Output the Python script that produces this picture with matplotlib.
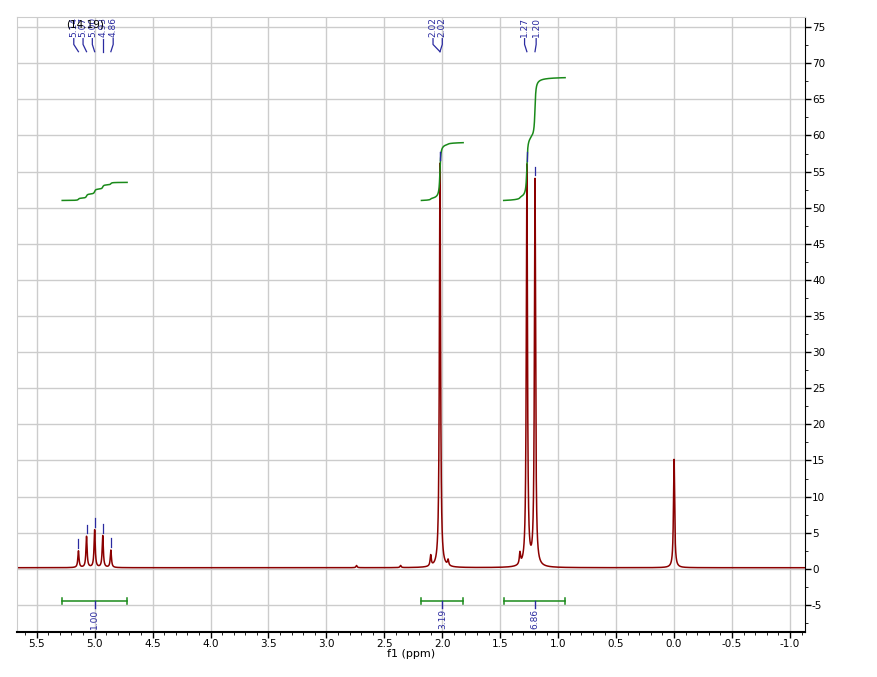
import numpy as np
import matplotlib.pyplot as plt
from matplotlib.ticker import MultipleLocator, FuncFormatter

# peak positions (ppm) and heights
peak_ppm = [5.14, 5.07, 5.00, 4.93, 4.86, 2.74, 2.36, 2.10, 2.02, 1.95, 1.33, 1.27, 1.20, 0.00]
peak_h = [2.3, 4.3, 5.2, 4.4, 2.4, 0.3, 0.3, 1.5, 56.0, 0.8, 1.6, 55.5, 53.5, 15.0]

# integral regions: start, end, top value of the green curve
integ_from = [5.28, 2.18, 1.47]
integ_to = [4.72, 1.82, 0.94]
integ_top = [53.5, 59.0, 68.0]
integ_lbl = ['1.00', '3.19', '6.86']
integ_lbl_x = [5.00, 2.00, 1.20]

# peak pick labels: text, label position, peak position
pick_txt = ['5.14', '5.07', '5.00', '4.93', '4.86', '2.02', '2.02', '1.27', '1.20']
pick_lx = [5.18, 5.10, 5.02, 4.93, 4.84, 2.08, 2.00, 1.29, 1.19]
pick_px = [5.14, 5.07, 5.00, 4.93, 4.86, 2.02, 2.02, 1.27, 1.20]

x = np.linspace(5.67, -1.13, 30000)
y = np.full_like(x, 0.15)
w = 0.006
for p, h in zip(peak_ppm, peak_h):
    y += h * w**2 / ((x - p)**2 + w**2)

fig = plt.figure(figsize=(8.77, 6.77), dpi=100)
ax = fig.add_axes([17 / 877, 45 / 677, 788 / 877, 615 / 677])
ax.set_xlim(5.67, -1.13)
ax.set_ylim(-8.75, 76.4)

ax.plot(x, y, color='#8b0000', lw=1.1)

blue = '#2a2aa0'
green = '#1a8a1a'
for a, b, top in zip(integ_from, integ_to, integ_top):
    m = (x <= a) & (x >= b)
    c = np.cumsum(y[m] - 0.15)
    c = 51 + (top - 51) * c / c[-1]
    ax.plot(x[m], c, color=green, lw=1.1)
for a, b, lx, t in zip(integ_from, integ_to, integ_lbl_x, integ_lbl):
    ax.plot([a, b], [-4.5, -4.5], color=green, lw=1.1)
    ax.plot([a, a], [-4.9, -4.1], color=green, lw=1.1)
    ax.plot([b, b], [-4.9, -4.1], color=green, lw=1.1)
    ax.plot([lx, lx], [-4.5, -5.4], color=blue, lw=1.0)
    ax.text(lx, -5.5, t, rotation=90, ha='center', va='top', fontsize=6.5, color=blue)

for t, lx, px in zip(pick_txt, pick_lx, pick_px):
    ax.text(lx, 73.6, t, rotation=90, ha='center', va='bottom', fontsize=6.5, color=blue)
    ax.plot([lx, lx, px], [73.4, 72.6, 71.6], color=blue, lw=0.9)
    h = np.interp(-px, -x, y)
    ax.plot([px, px], [h + 0.4, h + 1.6], color=blue, lw=0.9)
ax.text(5.08, 75.3, '(14.19)', ha='center', va='center', fontsize=7.5, color='black')

ax.xaxis.set_major_locator(MultipleLocator(0.5))
ax.xaxis.set_minor_locator(MultipleLocator(0.1))
ax.xaxis.set_major_formatter(FuncFormatter(lambda v, p: f'{v:.1f}'))
ax.yaxis.tick_right()
ax.yaxis.set_major_locator(MultipleLocator(5))
ax.yaxis.set_minor_locator(MultipleLocator(2.5))
ax.yaxis.set_major_formatter(FuncFormatter(lambda v, p: f'{v:.0f}'))
ax.tick_params(axis='both', labelsize=7.5, length=4, width=1, direction='out', pad=1)
ax.tick_params(axis='both', which='minor', length=2.5)
ax.grid(True, which='major', color='#cccccc', lw=1.0)
ax.set_axisbelow(True)
for s in ['left', 'top']:
    ax.spines[s].set_color('#cccccc')
ax.spines['bottom'].set_linewidth(1.5)
ax.set_xlabel('f1 (ppm)', fontsize=8, labelpad=0)

fig.savefig('out.png')
